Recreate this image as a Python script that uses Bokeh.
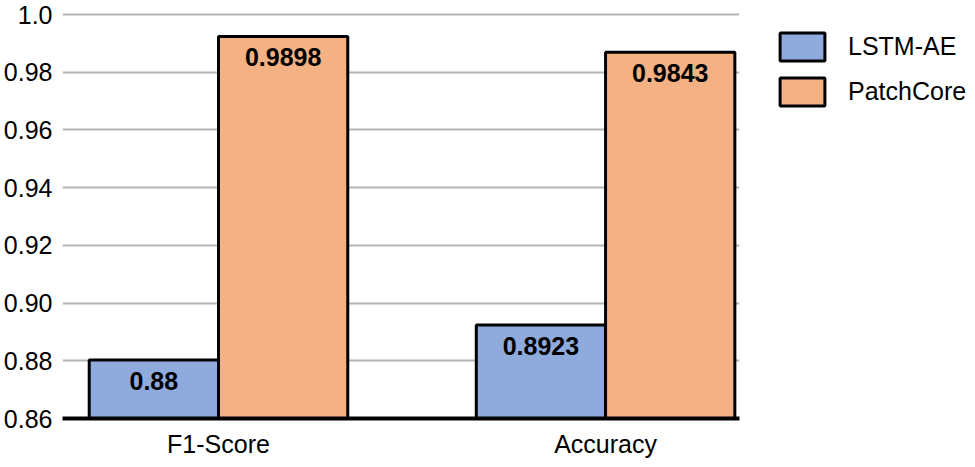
from bokeh.plotting import figure
from bokeh.models import Range1d, FixedTicker, Legend, LegendItem
from bokeh.core.properties import value
from bokeh.embed import file_html
from bokeh.resources import INLINE

categories = ["F1-Score", "Accuracy"]
series = ["LSTM-AE", "PatchCore"]
lstm_heights = [0.8803, 0.8924]
patch_heights = [0.9924, 0.9869]
lstm_labels = ["0.88", "0.8923"]
patch_labels = ["0.9898", "0.9843"]
y_ticks = [0.86, 0.88, 0.90, 0.92, 0.94, 0.96, 0.98, 1.0]
y_tick_labels = ["0.86", "0.88", "0.90", "0.92", "0.94", "0.96", "0.98", "1.0"]
colors = ["#8FAADC", "#F4B183"]

FONT = "Liberation Sans"
bar_w = 0.334
xs = [i + 1 for i in range(len(categories))]
x_lstm = [x - bar_w / 2 for x in xs]
x_patch = [x + bar_w / 2 for x in xs]

p = figure(frame_width=677, frame_height=406,
           x_range=Range1d(0.597, 2.346), y_range=Range1d(0.86, 1.0007),
           output_backend="svg", toolbar_location=None,
           min_border_left=53, min_border_right=0,
           min_border_top=12, min_border_bottom=0)
p.outline_line_color = None
p.background_fill_color = "white"
p.border_fill_color = "white"

r1 = p.vbar(x=x_lstm, top=lstm_heights, bottom=0.86, width=bar_w,
            fill_color=colors[0], line_color="black", line_width=3)
r2 = p.vbar(x=x_patch, top=patch_heights, bottom=0.86, width=bar_w,
            fill_color=colors[1], line_color="black", line_width=3)

for xx, hh, ll in ((x_lstm, lstm_heights, lstm_labels), (x_patch, patch_heights, patch_labels)):
    p.text(x=xx, y=hh, text=ll, text_align="center", text_baseline="top",
           y_offset=12, text_font=value(FONT), text_font_style="bold",
           text_font_size="25px", text_color="black")

# axes
p.xaxis.ticker = FixedTicker(ticks=xs)
p.xaxis.major_label_overrides = {x: c for x, c in zip(xs, categories)}
p.xaxis.major_tick_line_color = None
p.xaxis.minor_tick_line_color = None
p.xaxis.axis_line_color = "black"
p.xaxis.axis_line_width = 4
p.xaxis.major_label_standoff = 5
p.xaxis.major_label_text_font = FONT
p.xaxis.major_label_text_font_size = "25px"
p.xaxis.major_label_text_color = "black"

p.yaxis.ticker = FixedTicker(ticks=y_ticks)
p.yaxis.major_label_overrides = {t: l for t, l in zip(y_ticks, y_tick_labels)}
p.yaxis.major_tick_line_color = None
p.yaxis.minor_tick_line_color = None
p.yaxis.axis_line_color = None
p.yaxis.major_label_standoff = 4
p.yaxis.major_label_text_font = FONT
p.yaxis.major_label_text_font_size = "25px"
p.yaxis.major_label_text_color = "black"

p.xgrid.grid_line_color = None
p.ygrid.ticker = FixedTicker(ticks=y_ticks[1:])
p.ygrid.grid_line_color = "#b4b4b4"
p.ygrid.grid_line_width = 2

legend = Legend(items=[LegendItem(label=series[0], renderers=[r1]),
                       LegendItem(label=series[1], renderers=[r2])],
                location=(35, 309), margin=16, padding=0, spacing=10,
                glyph_width=56, glyph_height=35, label_height=35,
                label_standoff=18, label_text_font=FONT,
                label_text_font_size="25px", label_text_color="black",
                border_line_color=None, background_fill_alpha=0)
p.add_layout(legend, "right")

open("out.html", "w").write(file_html(p, INLINE))
